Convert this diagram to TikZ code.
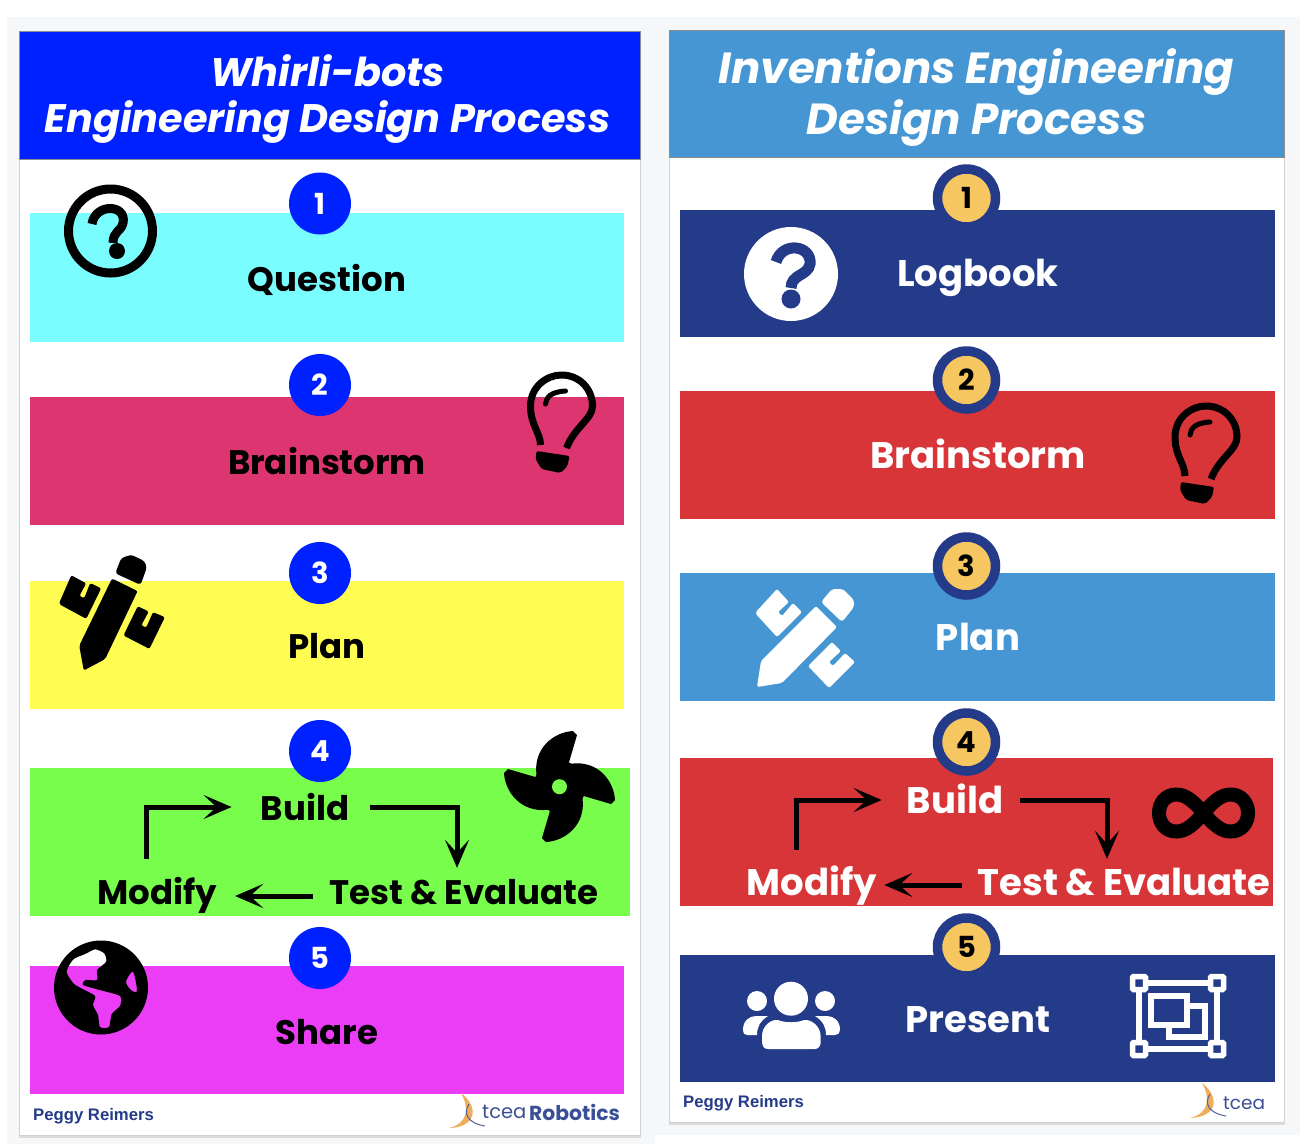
\documentclass[tikz,border=0pt]{standalone}
\usepackage{fontspec}
\setmainfont{Poppins}
\newfontfamily\namefont{Liberation Sans}
\usetikzlibrary{arrows.meta,calc}

\definecolor{wblue}{HTML}{0021FF}
\definecolor{wcyan}{HTML}{7AFDFF}
\definecolor{wpink}{HTML}{DC356F}
\definecolor{wyellow}{HTML}{FFFD52}
\definecolor{wgreen}{HTML}{79FD4D}
\definecolor{wmagenta}{HTML}{EB3DF5}
\definecolor{inavy}{HTML}{243B89}
\definecolor{ired}{HTML}{D83538}
\definecolor{iblue}{HTML}{4596D3}
\definecolor{igold}{HTML}{F6C660}
\definecolor{pagegray}{HTML}{F6F7F9}
\definecolor{logoorange}{HTML}{EFAE5A}

\tikzset{
    card/.style={fill=white, draw=black!18, line width=1pt},
    cardshadow/.style={fill=black!14, draw=none},
    header/.style={draw=black!45, line width=0.8pt},
    title/.style={text=white, align=center, inner sep=0pt, font=\fontsize{39.8}{46}\selectfont\bfseries\itshape},
    ititle/.style={title, font=\fontsize{43.5}{51}\selectfont\bfseries\itshape},
    bigword/.style={inner sep=0pt, text height=29pt, text depth=3pt, font=\fontsize{34}{36}\selectfont\bfseries},
    ibigword/.style={bigword, text=white, font=\fontsize{37}{38}\selectfont\bfseries},
    wnum/.style={circle, fill=wblue, text=white, minimum size=62pt, inner sep=0pt, font=\fontsize{29}{30}\selectfont\bfseries},
    inum/.style={circle, fill=igold, draw=inavy, line width=9.5pt, minimum size=58pt, inner sep=0pt, font=\fontsize{29}{30}\selectfont\bfseries},
    flowarrow/.style={-{Stealth[length=28pt,width=24pt,inset=13pt]}, line width=5pt},
    nametag/.style={inner sep=0pt, text=inavy, font=\fontsize{16.7}{18}\selectfont\namefont\bfseries},
    logoword/.style={inner sep=0pt, text=inavy!90, font=\fontsize{19.5}{24}\selectfont},
    bulb/.pic={
        \draw[line width=7pt, line cap=butt] (-21,24) .. controls (-21,12) and (-31,4) .. (-31,-15) .. controls (-31,-34) and (-15,-46) .. (0,-46) .. controls (18,-46) and (31,-32) .. (31,-15) .. controls (31,-2) and (13,6) .. (5,27);
        \draw[line width=5pt, line cap=round] (-16,-17) .. controls (-15,-24) and (-11,-29) .. (4,-30);
        \fill[rounded corners=2pt] (-25,30) -- (8,35) -- (6,45) -- (-1,52) -- (-20,48) -- (-26,38) -- cycle;
    },
    plantool/.pic={
        \fill[rounded corners=2pt] (-48,49) -- (-44,23) -- (11,-32) -- (32,-11) -- (-23,45) -- cycle;
        \fill[rounded corners=3pt] (16,-36) -- (27,-49) -- (38,-49) -- (49,-38) -- (49,-31) -- (37,-16) -- cycle;
        \fill[rounded corners=2pt] (-28,-49) -- (-16,-36) -- (-27,-26) -- (-23,-22) -- (-12,-35) -- (-3,-26) -- (-28,-1) -- (-50,-25) -- cycle;
        \fill[rounded corners=2pt] (3,28) -- (27,4) -- (36,13) -- (24,24) -- (28,28) -- (40,15) -- (50,24) -- (24,50) -- cycle;
    },
    tcealogo/.pic={
        \fill[logoorange] (0,-20) .. controls (18,-6) and (16,14) .. (-12,15) .. controls (8,10) and (8,-6) .. (0,-20) -- cycle;
        \draw[inavy!80, line width=1pt] (8,-9) .. controls (2,0) and (6,10) .. (24,13);
    }
}

\begin{document}
\begin{tikzpicture}[x=1pt, y=-1pt]
    \useasboundingbox (0,0) rectangle (1300,1144);
    \fill[pagegray] (7,17) rectangle (655,1144);
    \fill[pagegray] (655,17) rectangle (1300,1135);

    \fill[cardshadow] (19,33) rectangle (641,1138);
    \draw[card] (19,31) rectangle (640,1135);
    \fill[cardshadow] (669,32) rectangle (1285,1125);
    \draw[card] (669,30) rectangle (1284,1122);

    \draw[header, fill=wblue] (19,31) rectangle (640,159);
    \node[title] (wtitle) at (327.5,99) {Whirli-bots\\Engineering Design Process};
    \draw[header, fill=iblue] (669,30) rectangle (1284,157);
    \node[ititle] (ititle) at (976.5,98) {Inventions Engineering\\Design Process};

    \fill[wcyan] (30,213) rectangle (624,342);
    \fill[wpink] (30,397) rectangle (624,525);
    \fill[wyellow] (30,581) rectangle (624,709);
    \fill[wgreen] (30,768) rectangle (630,916);
    \fill[wmagenta] (30,966) rectangle (624,1094);

    \fill[inavy] (680,210) rectangle (1275,337);
    \fill[ired] (680,391) rectangle (1275,519);
    \fill[iblue] (680,573) rectangle (1275,701);
    \fill[ired] (680,758) rectangle (1273,906);
    \fill[inavy] (680,955) rectangle (1275,1082);

    \node[wnum] (wone) at (320,203.5) {1};
    \node[wnum] (wtwo) at (320,385) {2};
    \node[wnum] (wthree) at (320,573) {3};
    \node[wnum] (wfour) at (320,751) {4};
    \node[wnum] (wfive) at (320,958) {5};

    \node[inum] (ione) at (966.5,198) {1};
    \node[inum] (itwo) at (966.5,380) {2};
    \node[inum] (ithree) at (966.5,566) {3};
    \node[inum] (ifour) at (966.5,742) {4};
    \node[inum] (ifive) at (966.5,947) {5};

    \node[bigword] (wquestion) at (327,278) {Question};
    \node[bigword] (wbrainstorm) at (327,461) {Brainstorm};
    \node[bigword] (wplan) at (327,645) {Plan};
    \node[bigword] (wbuild) at (305,807) {Build};
    \node[bigword] (wmodify) at (157,891) {Modify};
    \node[bigword] (wtest) at (464,891) {Test \& Evaluate};
    \node[bigword] (wshare) at (327,1031) {Share};

    \node[ibigword] (ilogbook) at (978,273) {Logbook};
    \node[ibigword] (ibrainstorm) at (978,455) {Brainstorm};
    \node[ibigword] (iplan) at (978,637) {Plan};
    \node[ibigword] (ibuild) at (955,800) {Build};
    \node[ibigword] (imodify) at (812,882) {Modify};
    \node[ibigword] (itest) at (1124,882) {Test \& Evaluate};
    \node[ibigword] (ipresent) at (978,1019) {Present};

    \draw[flowarrow, shorten <=16pt, shorten >=29pt] ([xshift=-10.5pt]wmodify.north) |- (wbuild.west);
    \draw[flowarrow, shorten <=21pt, shorten >=7pt] (wbuild.east) -| ([xshift=-7pt]wtest.north);
    \draw[flowarrow, shorten <=16pt, shorten >=18pt] ([yshift=-5pt]wtest.west) -- ([yshift=-5pt]wmodify.east);

    \draw[flowarrow, shorten <=16pt, shorten >=25pt] ([xshift=-15.5pt]imodify.north) |- (ibuild.west);
    \draw[flowarrow, shorten <=17pt, shorten >=7pt] (ibuild.east) -| ([xshift=-17pt]itest.north);
    \draw[flowarrow, shorten <=15pt, shorten >=7pt] ([yshift=-3pt]itest.west) -- ([yshift=-3pt]imodify.east);

    % question icons
    \draw[line width=9pt] (110.5,231) circle (42);
    \draw[line width=9pt] (92,224) .. controls (95,203) and (127,204) .. (123,223) .. controls (121,232) and (113,231) .. (113,243);
    \fill (117,251) circle (8);
    \fill[white] (791,274) circle (47);
    \draw[inavy, line width=11pt] (776,262) .. controls (782,241) and (812,245) .. (810,264) .. controls (808,276) and (791,274) .. (791,288);
    \fill[inavy] (791,299) circle (9.5);

    % bulbs
    \pic at (561.5,421) {bulb};
    \pic at (1206,452) {bulb};

    % pencil and ruler
    \pic[rotate=19, scale=0.96] at (112,611) {plantool};
    \pic[white] at (805,638) {plantool};

    % fan
    \fill (559.5,786.7) circle (26);
    \fill (536.5,775) .. controls (533,748) and (554,732) .. (573,731) -- (577,735) -- (568.5,764) -- cycle;
    \fill (571,763.7) .. controls (598,760) and (614,781) .. (615,800) -- (611,804) -- (582,795.5) -- cycle;
    \fill (582.5,798.4) .. controls (586,825) and (565,841) .. (546,842) -- (542,838) -- (550.5,809) -- cycle;
    \fill (548,809.7) .. controls (521,813) and (505,792) .. (504,773) -- (508,769) -- (537,777.5) -- cycle;
    \fill[wgreen] (559.5,786.7) circle (7.5);

    % globe
    \fill[even odd rule] (101,987.5) circle (47)
        plot[smooth cycle, tension=0.4] coordinates {(66.6,971.7) (73.4,959.3) (85.2,954) (95.1,949.3) (104.2,953.3) (106.2,961.7) (97.1,970) (97.1,980) (85.2,980) (83.2,985) (97.1,989.3) (120,996) (120,1006) (111.7,1014) (109,1027) (100,1027) (98,1015) (93,1005) (95.1,996) (81.3,988.3) (73.4,983.3)}
        plot[smooth cycle, tension=0.5] coordinates {(133,971.7) (137,991) (131,990) (126,981.7)};

    % infinity
    \draw[line width=14pt] (1203.5,813) .. controls (1193.5,801) and (1185.5,794.5) .. (1176.5,794.5) .. controls (1165.5,794.5) and (1159,803) .. (1159,813) .. controls (1159,823) and (1165.5,831.5) .. (1176.5,831.5) .. controls (1185.5,831.5) and (1193.5,825) .. (1203.5,813) .. controls (1213.5,801) and (1221.5,794.5) .. (1230.5,794.5) .. controls (1241.5,794.5) and (1248,803) .. (1248,813) .. controls (1248,823) and (1241.5,831.5) .. (1230.5,831.5) .. controls (1221.5,831.5) and (1213.5,825) .. (1203.5,813) -- cycle;

    % people
    \fill[white] (791,998.7) circle (17);
    \fill[white] (757,1001) circle (10);
    \fill[white] (825,1001) circle (10);
    \fill[white] (768,1049) .. controls (764,1049) and (762,1046) .. (762,1043) -- (762,1036) .. controls (762,1026) and (771,1019) .. (778,1020) .. controls (785,1023) and (797,1023) .. (804,1020) .. controls (811,1019) and (820.6,1026) .. (820.6,1036) -- (820.6,1043) .. controls (820.6,1046) and (818,1049) .. (815,1049) -- cycle;
    \fill[white] (747,1035) .. controls (744,1035) and (743,1033) .. (743,1030) .. controls (743,1021) and (749,1016) .. (756,1016) -- (768,1016) .. controls (760,1021) and (757,1027) .. (757,1035) -- cycle;
    \fill[white] (835,1035) .. controls (838,1035) and (840,1033) .. (840,1030) .. controls (840,1021) and (834,1016) .. (827,1016) -- (815,1016) .. controls (823,1021) and (826,1027) .. (826,1035) -- cycle;

    % group frame
    \draw[white, line width=6pt] (1139,983) rectangle (1217,1049);
    \draw[white, line width=6pt] (1151,996) rectangle (1187,1025);
    \draw[white, line width=6pt] (1190,1006) -- (1205,1006) -- (1205,1037) -- (1169,1037) -- (1169,1028);
    \draw[white, line width=5.5pt, fill=inavy, rounded corners=1pt] (1132.5,976.5) rectangle (1145.5,989.5);
    \draw[white, line width=5.5pt, fill=inavy, rounded corners=1pt] (1210.5,976.5) rectangle (1223.5,989.5);
    \draw[white, line width=5.5pt, fill=inavy, rounded corners=1pt] (1132.5,1042.5) rectangle (1145.5,1055.5);
    \draw[white, line width=5.5pt, fill=inavy, rounded corners=1pt] (1210.5,1042.5) rectangle (1223.5,1055.5);

    % footers
    \node[nametag, anchor=west] (wname) at (33,1116) {Peggy Reimers};
    \node[nametag, anchor=west] (iname) at (683,1103) {Peggy Reimers};
    \pic at (461,1113) {tcealogo};
    \node[logoword, anchor=west] (wtcea) at (482,1112) {tcea};
    \node[logoword, anchor=west, font=\fontsize{20.3}{22}\selectfont\bfseries] (wrobotics) at (529,1112) {Robotics};
    \pic at (1202,1103) {tcealogo};
    \node[logoword, anchor=west, font=\fontsize{18.5}{24}\selectfont] (itcea) at (1223,1103) {tcea};
\end{tikzpicture}
\end{document}
